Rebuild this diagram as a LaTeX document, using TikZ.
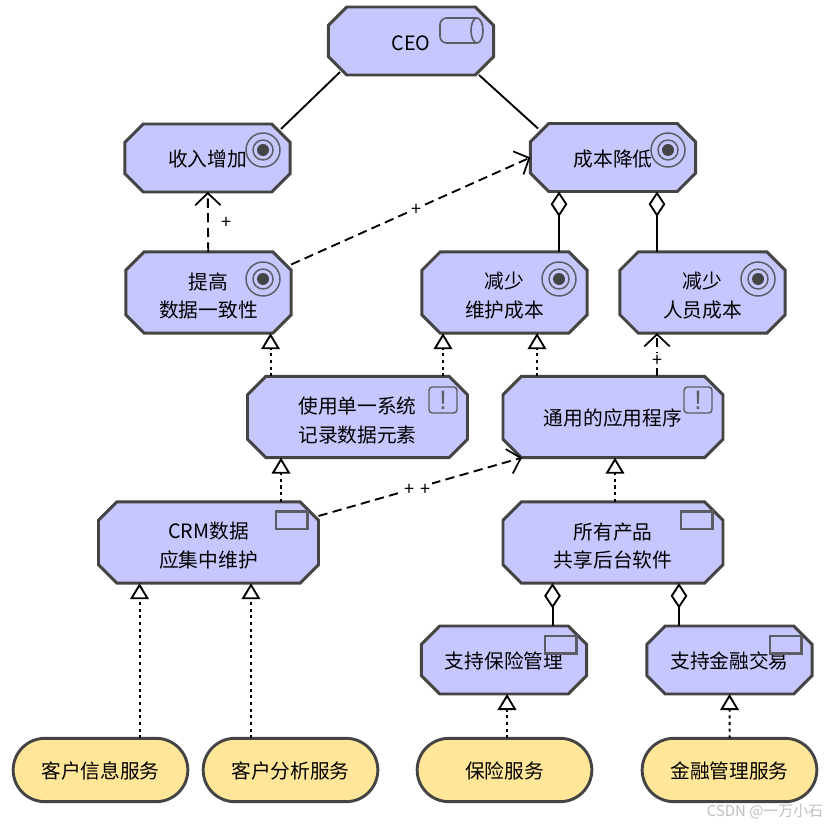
\documentclass[tikz,border=0pt]{standalone}
\usepackage{fontspec}
\setmainfont{Noto Sans CJK SC}
\newfontfamily\markfont{Liberation Sans}
\usetikzlibrary{arrows.meta,calc,shapes.misc}

\definecolor{c1}{RGB}{199,199,255}
\definecolor{c2}{RGB}{255,230,153}
\definecolor{c3}{RGB}{68,68,68}
\definecolor{c4}{RGB}{92,92,100}
\definecolor{c5}{RGB}{190,190,190}

\tikzset{
  box/.style={draw=c3,line width=2.2pt,inner sep=0pt,outer sep=0pt,align=center,
    font=\fontsize{14.8}{21.5}\selectfont,execute at begin node={\rule{0pt}{14.2pt}}},
  twolines/.style={text height=39pt},
  motive/.style={box,fill=c1,chamfered rectangle,chamfered rectangle xsep=7.2pt,
    chamfered rectangle ysep=6.6pt,minimum width=124pt},
  goal/.style={motive,minimum height=51pt},
  wide/.style={motive,minimum width=165pt,minimum height=61pt},
  service/.style={box,fill=c2,rounded rectangle,minimum width=131pt,minimum height=47.5pt},
  assoc/.style={line width=1.4pt},
  flow/.style={line width=1.4pt,dash pattern=on 7pt off 4pt,
    arrows={-Straight Barb[length=9pt,width=19pt,line width=1.3pt]}},
  realize/.style={line width=1.5pt,dash pattern=on 2.3pt off 2.7pt,
    arrows={-Triangle[open,length=12pt,width=14pt,line width=1.4pt]}},
  part/.style={line width=1.5pt,
    arrows={Diamond[open,length=19pt,width=12.5pt,line width=1.4pt]-}},
  sign/.style={font=\fontsize{13.5}{13.5}\selectfont,inner sep=1.5pt},
  pics/goalicon/.style={code={
    \draw[c4,line width=1.1pt] (0,0) circle (17) (0,0) circle (10);
    \fill[c3] (0,0) circle (6);
  }},
  pics/roleicon/.style={code={
    \draw[c4,line width=1.2pt,rounded corners=5pt] (37,0) -- (0,0) -- (0,25) -- (37,25);
    \draw[c4,line width=1.2pt] (37,12.5) ellipse (6 and 12.5);
  }},
  pics/reqicon/.style={code={
    \draw[c4,line width=1.1pt,rounded corners=2.5pt] (0,0) rectangle (28,26);
    \node[text=c4,inner sep=0pt,font=\markfont\fontsize{20}{20}\selectfont] (excl) at (14,13) {!};
  }},
  pics/funcicon/.style={code={
    \draw[c4,line width=1.6pt] (0,0) rectangle (31.5,17.5);
  }}
}

\begin{document}
\begin{tikzpicture}[x=.75pt,y=-.75pt]
  \useasboundingbox (0,0) rectangle (834,827);

  \node[goal] (ceo) at (411,41) {CEO};

  \node[goal] (revenue) at (207.5,158) {收入增加};
  \node[goal] (cost) at (613,157.5) {成本降低};

  \node[motive,twolines,minimum height=61pt] (improve) at (208.5,292.5) {提高\\数据一致性};
  \node[motive,twolines,minimum height=61pt] (upkeep) at (504.5,292.5) {减少\\维护成本};
  \node[motive,twolines,minimum height=61pt] (staff) at (702.5,292.5) {减少\\人员成本};

  \node[wide,twolines] (single) at (357.5,417) {使用单一系统\\记录数据元素};
  \node[wide] (common) at (613,417) {通用的应用程序};

  \node[wide,twolines] (crm) at (208.5,542.5) {CRM数据\\应集中维护};
  \node[wide,twolines] (product) at (613,542.5) {所有产品\\共享后台软件};

  \node[goal] (insure) at (504,660) {支持保险管理};
  \node[goal] (finance) at (729.5,660) {支持金融交易};

  \node[service] (custinfo) at (100.5,770) {客户信息服务};
  \node[service] (custana) at (290.5,770) {客户分析服务};
  \node[service] (insuresvc) at (504.5,770) {保险服务};
  \node[service] (financesvc) at (729.5,770) {金融管理服务};

  \pic at (440,18) {roleicon};
  \pic at (263,150) {goalicon};
  \pic at (668,150) {goalicon};
  \pic at (263,279) {goalicon};
  \pic at (559,279) {goalicon};
  \pic at (758,279) {goalicon};
  \pic at (429,387) {reqicon};
  \pic at (684,387) {reqicon};
  \pic at (276,511.5) {funcicon};
  \pic at (681,511.5) {funcicon};
  \pic at (545,636) {funcicon};
  \pic at (770,636) {funcicon};

  \draw[assoc] ($(ceo.south)+(-71,-3)$) to ($(revenue.north)+(73.5,5)$);
  \draw[assoc] ($(ceo.south)+(68,0)$) to ($(cost.north)+(-75,5)$);

  \draw[flow] (improve) to node[sign,pos=.48,right=8pt] (plusa) {+} (revenue);
  \draw[flow] ($(improve.east)+(0,-28)$) to node[sign,fill=white,pos=.523,yshift=-1pt] (plusb) {+} (cost.west);
  \draw[flow] ($(common.north)+(44,0)$) to node[sign,fill=white,pos=.36] (plusc) {+} ($(staff.south)+(-45.5,0)$);
  \draw[flow] ($(crm.east)+(0,-26.5)$) to node[sign,fill=white,pos=.485,yshift=-1.5pt] (plusd) {+\,\,+} ($(common.south)+(-91,0)$);

  \draw[part] ($(cost.south)+(-54,0)$) to ($(upkeep.north)+(54.5,0)$);
  \draw[part] ($(cost.south)+(44,0)$) to ($(staff.north)+(-45.5,0)$);
  \draw[part] ($(product.south)+(-60.5,0)$) to ($(insure.north)+(48.5,0)$);
  \draw[part] ($(product.south)+(66,0)$) to ($(finance.north)+(-50.5,0)$);

  \draw[realize] ($(single.north)+(-87,0)$) to ($(improve.south)+(62,0)$);
  \draw[realize] ($(single.north)+(85.5,0)$) to ($(upkeep.south)+(-61.5,0)$);
  \draw[realize] ($(common.north)+(-76,0)$) to ($(upkeep.south)+(32.5,0)$);
  \draw[realize] ($(crm.north)+(72.5,0)$) to ($(single.south)+(-76.5,0)$);
  \draw[realize] ($(product.north)+(2,0)$) to ($(common.south)+(2,0)$);
  \draw[realize] ($(custinfo.north)+(39,0)$) to ($(crm.south)+(-69,0)$);
  \draw[realize] ($(custana.north)+(-39.5,0)$) to ($(crm.south)+(42.5,0)$);
  \draw[realize] ($(insuresvc.north)+(2.5,0)$) to ($(insure.south)+(3,0)$);
  \draw[realize] (financesvc) to (finance);

  \node[text=c5,inner sep=0pt,font=\fontsize{11.2}{12}\selectfont] (credit) at (765,812) {CSDN @一万小石};
\end{tikzpicture}
\end{document}
